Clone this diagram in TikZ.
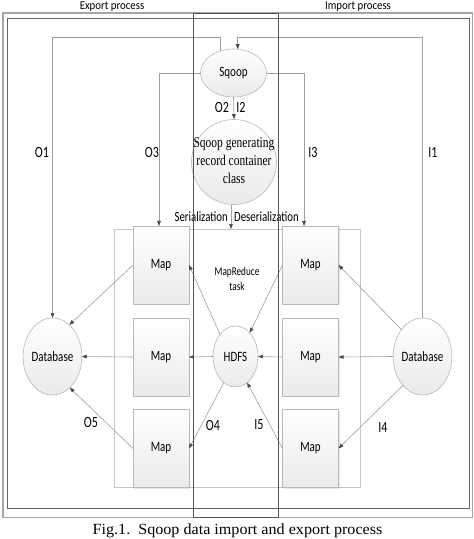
\documentclass[tikz,border=0pt]{standalone}
\usepackage{fontspec}
\setmainfont{Liberation Serif}
\newfontfamily\labfont{Carlito}
\usetikzlibrary{arrows.meta,calc,shapes.geometric,shadows}
\newcommand\vstr[1]{\scalebox{1}[1.3]{#1}}
\begin{document}
\begin{tikzpicture}[x=1bp,y=-1bp,
  conn/.style={draw=gray!75,line width=0.6bp},
  arr/.style={-{Triangle[length=5bp,width=3.6bp,color=black!72]}},
  frameline/.style={draw=black!60},
  ell/.style={ellipse,draw=gray!55,line width=0.6bp,inner sep=0pt,outer sep=0pt,
    top color=white,bottom color=gray!16,
    font=\labfont\fontsize{11bp}{13bp}\selectfont},
  mapbox/.style={rectangle,draw=gray!55,line width=0.6bp,inner sep=0pt,outer sep=0pt,
    top color=white,bottom color=gray!16,minimum width=56bp,minimum height=78bp,
    drop shadow={opacity=0.18,shadow xshift=1bp,shadow yshift=-1bp},
    font=\labfont\fontsize{11bp}{13bp}\selectfont},
  lab/.style={font=\labfont\fontsize{12bp}{14bp}\selectfont,inner sep=0pt},
  small/.style={font=\labfont\fontsize{10.8bp}{13bp}\selectfont,inner sep=0pt}
]
\useasboundingbox (0,0) rectangle (474,539);
\fill[white] (0,0) rectangle (474,539);

% titles
\node[small,anchor=base] (exp) at (112,10) {\scalebox{1}[1.12]{Export process}};
\node[small,anchor=base] (imp) at (358,10) {\scalebox{1}[1.12]{Import process}};

% frames
\draw[draw=gray!70,line width=1.6bp] (3,13) rectangle (472.5,517.5);
\draw[frameline,line width=0.9bp] (7,18) rectangle (469,508);

% MapReduce container
\node[draw=gray!45,line width=0.6bp,minimum width=246bp,minimum height=258bp,inner sep=0pt] (mr) at (237,358) {};
\node[font=\labfont\fontsize{9.2bp}{11bp}\selectfont,inner sep=0pt] (mrlab) at (237,280)
  {\vstr{\begin{tabular}{@{}c@{}}MapReduce\\task\end{tabular}}};

% nodes
\node[ell,minimum width=66bp,minimum height=48bp] (sq) at (233.5,73) {\vstr{Sqoop}};
\node[circle,draw=gray!55,line width=0.6bp,minimum size=85bp,inner sep=0pt,
  top color=white,bottom color=gray!16,
  label={[font=\fontsize{11.5bp}{13.8bp}\selectfont]center:{\vstr{\begin{tabular}{@{}c@{}}Sqoop generating\\record container\\class\end{tabular}}}}]
  (gen) at (234,162) {};

\node[mapbox] (mTL) at (161,265) {\vstr{Map}};
\node[mapbox] (mML) at (161,357) {\vstr{Map}};
\node[mapbox] (mBL) at (161,448.5) {\vstr{Map}};
\node[mapbox] (mTR) at (310.5,265) {\vstr{Map}};
\node[mapbox] (mMR) at (310.5,357) {\vstr{Map}};
\node[mapbox] (mBR) at (310.5,448.5) {\vstr{Map}};

\node[ell,minimum width=57bp,minimum height=77bp] (dbL) at (52.5,356.5) {\vstr{Database}};
\node[ell,minimum width=57bp,minimum height=77bp] (dbR) at (422.5,356.5) {\vstr{Database}};
\node[ell,minimum width=45bp,minimum height=61bp] (hdfs) at (235.5,356.5) {\vstr{HDFS}};

% feedback connectors
\coordinate (top) at (0,37);
\draw[conn,arr] (sq.120) -- (sq.120 |- top) -| (dbL.north);
\draw[conn,arr] (dbR.north) |- (sq.80 |- top) -- (sq.80);
\coordinate (o3end) at ($(mTL.north)+(-2,0)$);
\coordinate (i3end) at ($(mTR.north)+(-6.5,0)$);
\draw[conn,arr] (sq.west) -| (o3end);
\draw[conn,arr] (sq.east) -| (i3end);
\draw[conn,arr] (sq.south) -- (gen.north);
\coordinate (serT) at (231,229);
\draw[conn,arr] (gen.south -| serT) -- (serT);

% data flow connectors
\draw[conn,arr] (mTL.west) -- (dbL.62);
\draw[conn,arr] (mML.west) -- (dbL.east);
\draw[conn,arr] (mBL.west) -- (dbL.-61);
\draw[conn,arr] (hdfs.125) -- (mTL.east);
\draw[conn,arr] (hdfs.west) -- (mML.east);
\draw[conn,arr] (hdfs.-114) -- (mBL.east);
\draw[conn,arr] (mTR.west) -- (hdfs.59);
\draw[conn,arr] (mMR.west) -- (hdfs.east);
\draw[conn,arr] (mBR.west) -- (hdfs.-66);
\draw[conn,arr] (dbR.128) -- (mTR.east);
\draw[conn,arr] (dbR.west) -- (mMR.east);
\draw[conn,arr] (dbR.-124) -- (mBR.east);

% labels
\node[lab] (lO1) at (42,152) {\vstr{O1}};
\node[lab] (lO3) at (152,152) {\vstr{O3}};
\node[lab] (lI3) at (313,152) {\vstr{I3}};
\node[lab] (lI1) at (433,152) {\vstr{I1}};
\node[lab] (lO2) at (222,107) {\vstr{O2}};
\node[lab] (lI2) at (241,107) {\vstr{I2}};
\node[lab] (lO5) at (91,422) {\vstr{O5}};
\node[lab] (lO4) at (213,425) {\vstr{O4}};
\node[lab] (lI5) at (259,425) {\vstr{I5}};
\node[lab] (lI4) at (383,427) {\vstr{I4}};
\node[small,anchor=east] (lser) at (228,217) {\vstr{Serialization}};
\node[small,anchor=west] (ldes) at (234,217) {\vstr{Deserialization}};

% centre column frame
\draw[draw=black!68,line width=0.9bp] (193,13) rectangle (278,517.5);

% caption
\node[anchor=base,inner sep=0pt,font=\fontsize{15.5bp}{18bp}\selectfont] (cap) at (237.5,534.5)
  {\scalebox{1.04}[1]{Fig.1.\ \ Sqoop data import and export process}};
\end{tikzpicture}
\end{document}
